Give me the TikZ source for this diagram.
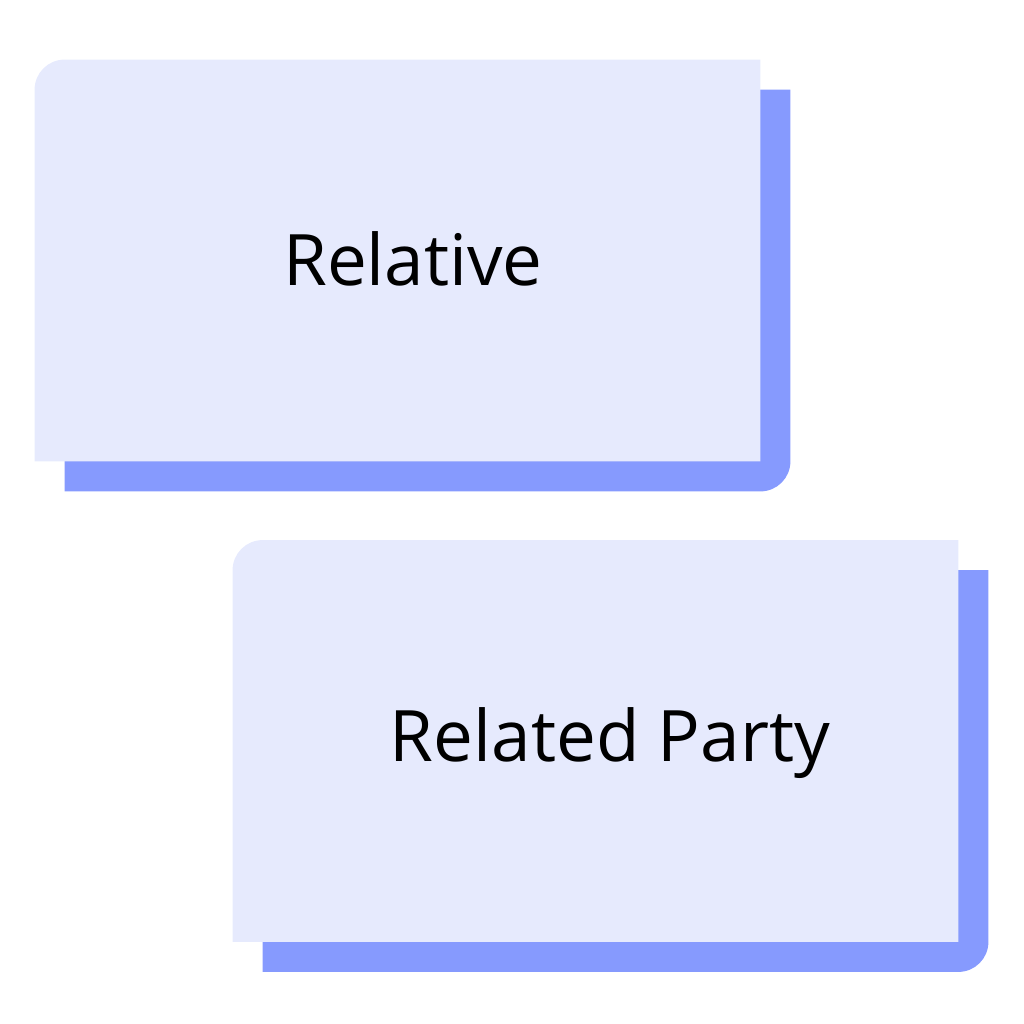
\documentclass[tikz,border=0pt]{standalone}
\usepackage{xcolor}
\usepackage{fontspec}
\setmainfont{Open Sans}
\usepackage{tikz}
\usetikzlibrary{calc, positioning}
\pgfdeclarelayer{background}
\pgfdeclarelayer{foreground}
\pgfsetlayers{background,main,foreground}
\definecolor{cardfill}{HTML}{E6EAFD}
\definecolor{shadowblue}{HTML}{869AFE}
\tikzstyle{card}   = [rectangle, minimum width=362.5pt, minimum height=200.5pt, inner sep=0pt, draw=none]
\tikzstyle{label}  = [anchor=base, font=\fontsize{35.5}{42}\selectfont, text=black]

\begin{document}
\begin{tikzpicture}[x=0.5pt, y=0.5pt]
    \useasboundingbox (0,0) rectangle (1024,1024);
    \node (rel)      [card] at (397.5,763.5) {};
    \node (relS)     [card] at (427.5,733.5) {};
    \node (party)    [card] at (595.5,283) {};
    \node (partyS)   [card] at (625.5,253) {};
    \node (relTxt)   [label] at (413,738) {Relative};
    \node (partyTxt) [label] at (610,262) {Related Party};

    \begin{pgfonlayer}{background}
      % shadows
      \fill [shadowblue] (relS.north west) -- (relS.north east) [rounded corners=15pt] -- (relS.south east) [sharp corners] -- (relS.south west) -- cycle;
      \fill [shadowblue] (partyS.north west) -- (partyS.north east) [rounded corners=15pt] -- (partyS.south east) [sharp corners] -- (partyS.south west) -- cycle;
      % cards
      \fill [cardfill] (rel.south west) [rounded corners=15pt] -- (rel.north west) [sharp corners] -- (rel.north east) -- (rel.south east) -- cycle;
      \fill [cardfill] (party.south west) [rounded corners=15pt] -- (party.north west) [sharp corners] -- (party.north east) -- (party.south east) -- cycle;
    \end{pgfonlayer}
  \end{tikzpicture}
\end{document}
